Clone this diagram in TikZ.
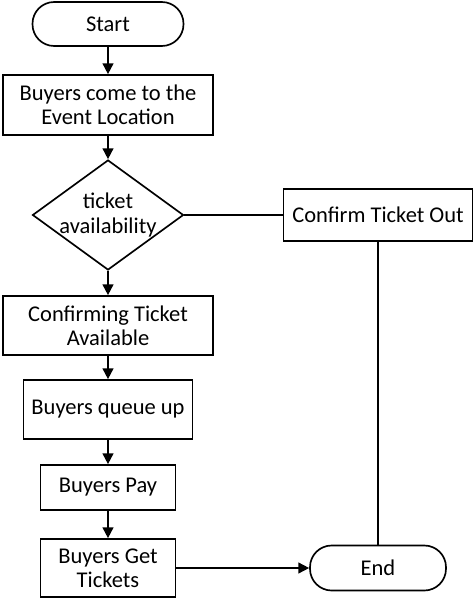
\documentclass[tikz,border=0pt]{standalone}
\usepackage{fontspec}
\setmainfont{Carlito}
\usetikzlibrary{arrows.meta,shapes.geometric}

\begin{document}
\begin{tikzpicture}[x=0.6pt,y=-0.6pt,every node/.style={font=\fontsize{13.5}{14.5}\selectfont},
  proc/.style={draw,line width=1pt,align=center,inner sep=0pt},
  term/.style={draw,line width=1pt,rounded corners=13pt,minimum width=90.6pt,minimum height=26.4pt,inner sep=0pt},
  dec/.style={draw,diamond,shape aspect=1.37,line width=1pt,align=center,minimum width=90.6pt,minimum height=66pt,inner sep=-8pt},
  arr/.style={-{Triangle[length=6.5pt,width=6.5pt]},line width=1pt},
  lin/.style={line width=1pt}]
\useasboundingbox (0,0) rectangle (474,600);
\node[term] (start) at (108,24) {Start};
\node[proc,minimum width=126pt,minimum height=36pt] (come) at (108,105) {Buyers come to the\\Event Location};
\node[dec] (avail) at (108,215) {ticket\\availability};
\node[proc,minimum width=126pt,minimum height=35.4pt] (conf) at (108,325.5) {Confirming Ticket\\Available};
\node[proc,minimum width=101.4pt,minimum height=35.4pt] (queue) at (108,409.5) {Buyers queue up};
\node[proc,minimum width=81pt,minimum height=27pt] (pay) at (108,487.5) {Buyers Pay};
\node[proc,minimum width=81pt,minimum height=34.8pt] (get) at (108,568) {Buyers Get\\Tickets};
\node[proc,minimum width=113.4pt,minimum height=31.2pt] (out) at (378,215) {Confirm Ticket Out};
\node[term,minimum width=81.6pt,minimum height=27pt] (end) at (378,568) {End};
\draw[arr] (start) -- (come);
\draw[arr] (come) -- (avail);
\draw[arr] (avail) -- (conf);
\draw[arr] (conf) -- (queue);
\draw[arr] (queue) -- (pay);
\draw[arr] (pay) -- (get);
\draw[arr] (get) -- (end);
\draw[lin] (avail) -- (out);
\draw[lin] (out) -- (end);
\end{tikzpicture}
\end{document}
